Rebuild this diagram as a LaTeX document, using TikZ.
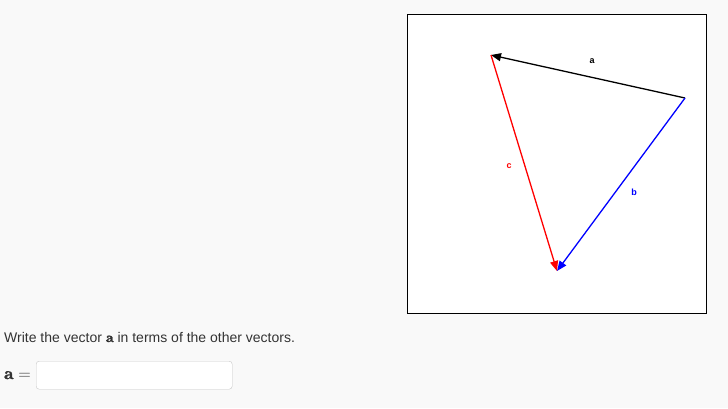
\documentclass[tikz,border=0pt]{standalone}
\usepackage[no-math]{fontspec}
\setmainfont{Liberation Sans}
\newfontface\lmbf{lmroman10-bold.otf}[FakeBold=2]
\usepackage{amsmath, amssymb}
\usetikzlibrary{arrows.meta, positioning}
\definecolor{pagebg}{RGB}{249,249,249}
\definecolor{textgray}{RGB}{51,51,51}
\definecolor{fieldline}{RGB}{200,200,200}
\newcommand{\bvec}[1]{\text{\lmbf #1}}

\begin{document}
\begin{tikzpicture}[x=1pt, y=-1pt,
  vec/.style={line width=1.3pt, -{Triangle[length=10pt, width=8pt]}},
  veclabel/.style={font=\fontsize{9}{10}\selectfont\bfseries, inner sep=1pt}]
  \fill[pagebg] (0,0) rectangle (728,408);
  \useasboundingbox (0,0) rectangle (728,408);
  % figure frame
  \node[draw, fill=white, line width=0.9pt, minimum width=299pt, minimum height=299pt,
        inner sep=0pt, anchor=north west] (frame) at (407,14) {};
  % triangle of vectors
  \coordinate (tip) at (491,55);
  \coordinate (corner) at (685,98);
  \coordinate (base) at (557,271);
  \draw[vec] (corner) -- (tip);
  \draw[vec, blue] (corner) -- (base);
  \draw[vec, red] (tip) -- (base);
  \node[veclabel] (lbla) at (592,61) {a};
  \node[veclabel, text=blue] (lblb) at (634,192) {b};
  \node[veclabel, text=red] (lblc) at (509,166) {c};
  % question and answer field
  \node[anchor=west, text=textgray, inner sep=0pt, font=\fontsize{14}{16}\selectfont] (prompt) at (4,337)
    {Write the vector $\bvec{a}$ in terms of the other vectors.};
  \node[draw=fieldline, fill=white, rounded corners=3pt, minimum width=196pt, minimum height=28pt,
        inner sep=0pt, anchor=north west] (answer) at (36,361) {};
  \node[left=5pt of answer, inner sep=0pt, text=textgray, font=\fontsize{17}{19}\selectfont] (lhs) {$\bvec{a} =$};
\end{tikzpicture}
\end{document}
